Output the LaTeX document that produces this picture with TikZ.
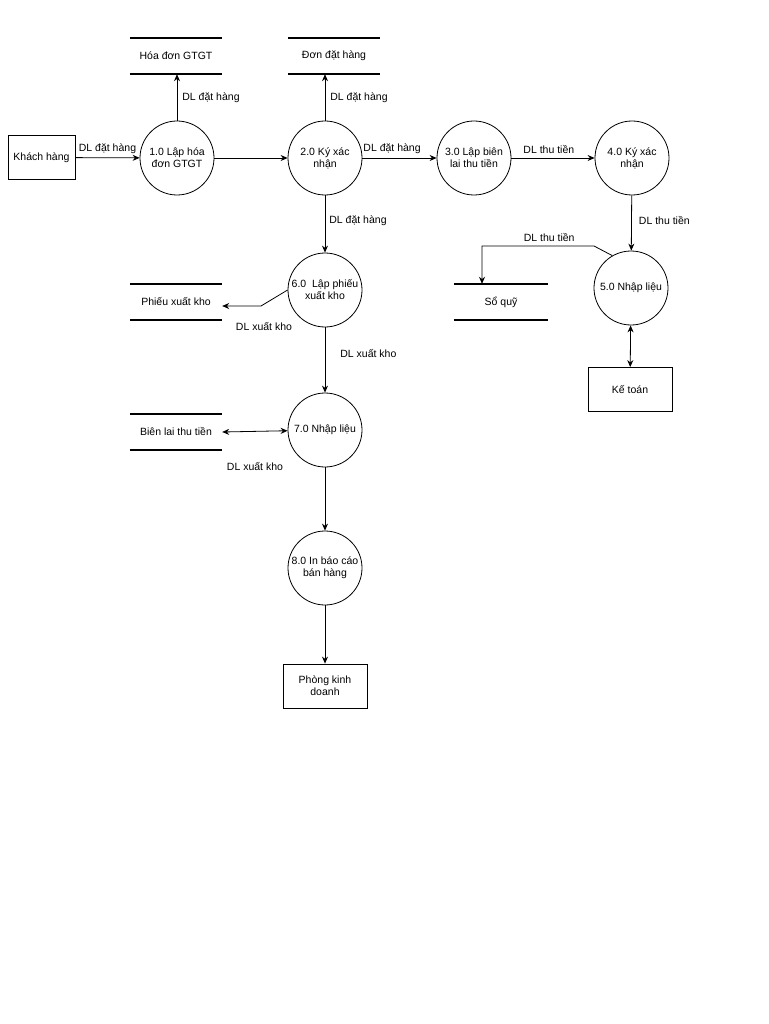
\documentclass[tikz,border=0pt]{standalone}
\usepackage{fontspec}
\setmainfont{Liberation Sans}
\usetikzlibrary{arrows.meta}
\begin{document}
\begin{tikzpicture}[x=1pt,y=-1pt,
  every node/.style={font=\fontsize{10.5}{12}\selectfont},
  proc/.style={circle,draw,thick,minimum size=74pt,inner sep=0pt,align=center},
  ent/.style={draw,thick,minimum width=67pt,minimum height=44pt,align=center},
  bigent/.style={draw,thick,minimum width=84pt,minimum height=44pt,align=center},
  store/.style={minimum width=92pt,minimum height=36pt,inner sep=0pt},
  flow/.style={-{Stealth[length=7pt,width=6pt]},line width=0.8pt},
  bflow/.style={{Stealth[length=7pt,width=6pt]}-{Stealth[length=7pt,width=6pt]},line width=0.8pt},
  lbl/.style={inner sep=1pt}]
\useasboundingbox (0,0) rectangle (768,1024);
\node[ent] (kh) at (41.5,157.5) {Khách hàng};
\node[proc] (p1) at (177,158) {1.0 Lập hóa\\đơn GTGT};
\node[proc] (p2) at (325,158) {2.0 Ký xác\\nhận};
\node[proc] (p3) at (474,158) {3.0 Lập biên\\lai thu tiền};
\node[proc] (p4) at (632,158) {4.0 Ký xác\\nhận};
\node[proc] (p5) at (631,288) {5.0 Nhập liệu};
\node[proc] (p6) at (325,290) {6.0\ \ Lập phiếu\\xuất kho};
\node[proc] (p7) at (325,430) {7.0 Nhập liệu};
\node[proc] (p8) at (325,568) {8.0 In báo cáo\\bán hàng};
\node[bigent] (kt) at (630,389.5) {Kế toán};
\node[bigent] (pkd) at (325,686) {Phòng kinh\\doanh};
\foreach \n/\x/\y/\w/\t in {hd/176/56/92/Hóa đơn GTGT, ddh/334/56/92/Đơn đặt hàng, pxk/176/302/92/Phiếu xuất kho, sq/501/302/94/Sổ quỹ, bl/176/432/92/Biên lai thu tiền}{
  \node[store,minimum width=\w pt] (\n) at (\x,\y) {\t};
  \draw[line width=2.4pt] (\n.north west) -- (\n.north east) (\n.south west) -- (\n.south east);
}
\draw[flow] (kh) -- (p1) node[lbl,pos=0.5,above=3pt] {DL đặt hàng};
\draw[flow] (p1) -- (p1|-hd.south) node[lbl,pos=0.5,right=4pt] {DL đặt hàng};
\draw[flow] (p1) -- (p2);
\draw[flow] (p2) -- (p2|-ddh.south) node[lbl,pos=0.5,right=4pt] {DL đặt hàng};
\draw[flow] (p2) -- (p3) node[lbl,pos=0.4,above=3pt] {DL đặt hàng};
\draw[flow] (p3) -- (p4) node[lbl,pos=0.45,above=3pt] {DL thu tiền};
\draw[flow] (p4) -- (p5) node[lbl,pos=0.45,right=6pt] {DL thu tiền};
\coordinate (c5a) at (594,246);
\coordinate (c5b) at (482,246);
\draw[flow] (p5.120) -- (c5a) -- (c5b) node[lbl,pos=0.4,above=3pt] {DL thu tiền} -- (c5b|-sq.north);
\draw[bflow] (p5) -- (kt);
\draw[flow] (p2) -- (p6) node[lbl,pos=0.45,right=3pt] {DL đặt hàng};
\coordinate (c6) at (261,306);
\draw[flow] (p6.west) -- (c6) -- (pxk.east|-c6);
\node[lbl] at (264,327) {DL xuất kho};
\draw[flow] (p6) -- (p7) node[lbl,pos=0.4,right=14pt] {DL xuất kho};
\draw[bflow] (p7) -- (bl.east);
\node[lbl] at (255,467) {DL xuất kho};
\draw[flow] (p7) -- (p8);
\draw[flow] (p8) -- (pkd);
\end{tikzpicture}
\end{document}
